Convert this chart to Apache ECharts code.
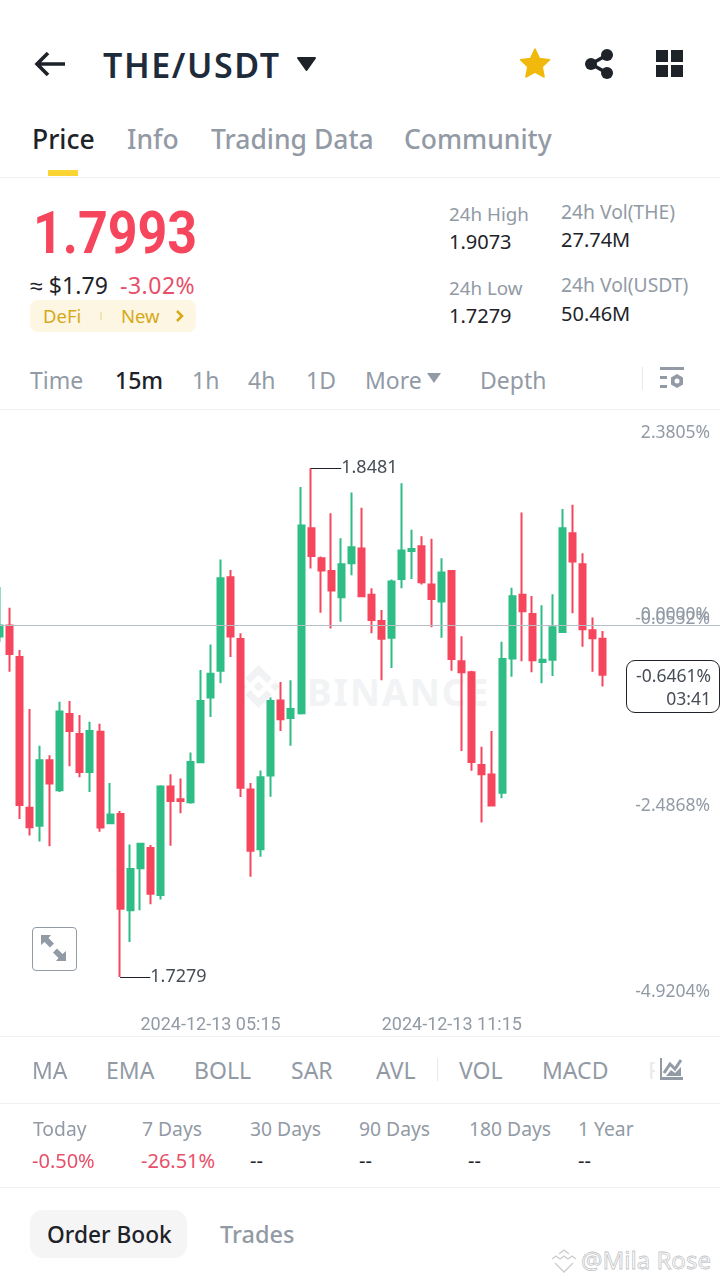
<!DOCTYPE html>
<html>
<head>
<meta charset="utf-8">
<title>THE/USDT</title>
<script src="https://cdn.jsdelivr.net/npm/echarts@6/dist/echarts.min.js"></script>
<style>
    html, body { margin: 0; padding: 0; background: #fff; }
    #page { position: relative; width: 720px; height: 1281px; overflow: hidden; background: #fff;
        font-family: "Noto Sans", sans-serif; color: #1e2329; }
    #chart { position: absolute; left: 0; top: 410px; width: 720px; height: 626px; }
    .t { position: absolute; white-space: nowrap; line-height: 1; transform: translateY(-50%); }
    .g { color: #929aa5; }
    .r { color: #e8506a; }
    .line { position: absolute; left: 0; width: 720px; height: 1px; background: #eef0f2; }
    .tab { font-size: 26.5px; font-weight: 500; }
    .iv { font-size: 23px; }
    .st { font-size: 20px; }
    .lb { font-size: 19.3px; }
    .ind { font-size: 23px; }
    svg { position: absolute; }
    #mark { position: absolute; left: 307px; top: 691px; font: bold 37px "Noto Sans", sans-serif; color: #f2f3f4;
        letter-spacing: 2px; line-height: 1; transform: translateY(-50%); }
    #lastBox { position: absolute; left: 626px; top: 660px; width: 92px; height: 51px; border: 1px solid #1e2329;
        border-radius: 9px; background: #fff; font-size: 17.5px; line-height: 23px; text-align: right;
        box-sizing: content-box; color: #474d57; }
    #lastBox div { padding-right: 8px; }
    #lastBox div:first-child { margin-top: 3px; }
</style>
</head>
<body>
<div id="page">
    <!-- header -->
    <svg style="left:34px;top:50px" width="34" height="28" viewBox="0 0 34 28"><path d="M14 3 3 14l11 11M3 14h28" fill="none" stroke="#1e2329" stroke-width="3.6"/></svg>
    <div class="t" style="left:103px;top:65px;font-size:34px;font-weight:600;letter-spacing:1.6px;color:#1e2b3a">THE/USDT</div>
    <svg style="left:296px;top:56px" width="21" height="16" viewBox="0 0 21 16"><path d="M2 2h17L10.500 14z" fill="#1e2329" stroke="#1e2329" stroke-width="2" stroke-linejoin="round"/></svg>
    <svg style="left:519px;top:47px" width="32" height="32" viewBox="0 0 32 32"><path d="M16 2l4.500 9.500 10 1.300-7.300 7 1.900 10.200L16 25l-9.100 5 1.900-10.200-7.300-7 10-1.300z" fill="#f0b90b" stroke="#f0b90b" stroke-width="1.500" stroke-linejoin="round"/></svg>
    <svg style="left:584px;top:48px" width="30" height="32" viewBox="0 0 30 32"><path d="M23 7 7 16l16 9" fill="none" stroke="#1e2329" stroke-width="3.500"/><circle cx="23" cy="7" r="6" fill="#1e2329"/><circle cx="7" cy="16" r="6" fill="#1e2329"/><circle cx="23" cy="25" r="6" fill="#1e2329"/></svg>
    <svg style="left:656px;top:50px" width="28" height="28" viewBox="0 0 28 28"><path d="M0 0h12v12H0zM15 0h12v12H15zM0 15h12v12H0zM15 15h12v12H15z" fill="#1e2329"/></svg>

    <div class="t tab" style="left:32px;top:139px">Price</div>
    <div class="t tab g" style="left:127px;top:139px">Info</div>
    <div class="t tab g" style="left:211px;top:139px">Trading Data</div>
    <div class="t tab g" style="left:404px;top:139px">Community</div>
    <div style="position:absolute;left:48px;top:170px;width:30px;height:6px;background:#fcd535"></div>
    <div class="line" style="top:177px"></div>

    <!-- price block -->
    <div class="t" style="left:33px;top:232px;font:bold 60px Roboto,sans-serif;color:#f6465d;transform-origin:left center;transform:translateY(-50%) scaleX(.866)">1.7993</div>
    <div class="t" style="left:30px;top:285px;font-size:23px;letter-spacing:.1px">≈ $1.79</div>
    <div class="t r" style="left:120px;top:285px;font-size:23px;letter-spacing:.5px">-3.02%</div>
    <div style="position:absolute;left:30px;top:300px;width:166px;height:32px;border-radius:8px;background:#fdf6e3"></div>
    <div class="t" style="left:43px;top:316px;font-size:18.5px;color:#d6a91b">DeFi</div>
    <div style="position:absolute;left:100px;top:312px;width:2px;height:8px;background:#f0e4b4"></div>
    <div class="t" style="left:121px;top:316px;font-size:18.5px;color:#d6a91b">New</div>
    <svg style="left:175px;top:309px" width="10" height="14" viewBox="0 0 10 14"><path d="M2 2l5 5-5 5" fill="none" stroke="#d6a91b" stroke-width="2.500"/></svg>

    <div class="t g lb" style="left:449px;top:214px;font-size:18.8px">24h High</div>
    <div class="t st" style="left:449px;top:242px">1.9073</div>
    <div class="t g lb" style="left:449px;top:288px;font-size:18.8px">24h Low</div>
    <div class="t st" style="left:449px;top:316px">1.7279</div>
    <div class="t g lb" style="left:561px;top:212px">24h Vol(THE)</div>
    <div class="t st" style="left:561px;top:240px">27.74M</div>
    <div class="t g lb" style="left:561px;top:285px">24h Vol(USDT)</div>
    <div class="t st" style="left:561px;top:314px">50.46M</div>

    <!-- interval row -->
    <div class="t iv g" style="left:30px;top:380px">Time</div>
    <div class="t iv" style="left:115px;top:380px;font-weight:500">15m</div>
    <div class="t iv g" style="left:192px;top:380px">1h</div>
    <div class="t iv g" style="left:248px;top:380px">4h</div>
    <div class="t iv g" style="left:306px;top:380px">1D</div>
    <div class="t iv g" style="left:365px;top:380px">More</div>
    <svg style="left:427px;top:373px" width="14" height="11" viewBox="0 0 14 11"><path d="M0 0h14L7 10z" fill="#929aa5"/></svg>
    <div class="t iv g" style="left:480px;top:380px">Depth</div>
    <div style="position:absolute;left:642px;top:367px;width:1px;height:23px;background:#e6e8ea"></div>
    <svg style="left:660px;top:367px" width="25" height="24" viewBox="0 0 25 24"><path d="M0 0h24v3H0zM0 9h7v3H0zM0 18h7v3H0z" fill="#929aa5"/><path d="M17 7l6 3.500v7L17 21l-6-3.500v-7z" fill="#929aa5"/><circle cx="17" cy="14" r="2.500" fill="#fff"/></svg>
    <div class="line" style="top:409px"></div>

    <!-- watermark sits under the transparent chart -->
    <svg style="left:237px;top:665px" width="43" height="43" viewBox="0 0 126.610 126.610"><g fill="#f1f2f3"><path d="M38.730 53.200l24.590-24.580 24.600 24.600 14.300-14.310L63.320 0 24.430 38.890z"/><path d="M0 63.310l14.300-14.310 14.310 14.310-14.310 14.300z"/><path d="M38.730 73.410L63.320 98l24.600-24.600 14.310 14.290-38.900 38.910-38.910-38.880-.02-.02z"/><path d="M98 63.310l14.300-14.310 14.310 14.310-14.310 14.300z"/><path d="M77.830 63.300L63.320 48.780 48.810 63.280l14.510 14.500z"/></g></svg>
    <div id="mark">BINANCE</div>

    <div id="chart"></div>

    <div id="lastBox"><div id="lastPct"></div><div id="lastTime"></div></div>

    <div style="position:absolute;left:32px;top:927px;width:43px;height:42px;border:1px solid #929aa5;border-radius:4px;background:#fff"></div>
    <svg style="left:41px;top:935px" width="26" height="27" viewBox="0 0 26 27"><path d="M0 0h10L7.500 3 13 8.500 9 12.500 3.500 7 0 10zM25 26H15l2.500-3L12 17.500 16 13.500l5.500 5.500 3.500-3z" fill="#929aa5"/></svg>

    <div class="line" style="top:1036px"></div>

    <!-- indicators -->
    <div class="t ind g" style="left:32px;top:1070px">MA</div>
    <div class="t ind g" style="left:106px;top:1070px">EMA</div>
    <div class="t ind g" style="left:194px;top:1070px">BOLL</div>
    <div class="t ind g" style="left:291px;top:1070px">SAR</div>
    <div class="t ind g" style="left:376px;top:1070px">AVL</div>
    <div style="position:absolute;left:437px;top:1058px;width:1px;height:23px;background:#e6e8ea"></div>
    <div class="t ind g" style="left:459px;top:1070px">VOL</div>
    <div class="t ind g" style="left:542px;top:1070px">MACD</div>
    <div class="t ind" style="left:648px;top:1070px;color:#e8eaed">R</div>
    <div style="position:absolute;left:655px;top:1052px;width:36px;height:36px;background:#fff"></div>
    <svg style="left:660px;top:1058px" width="24" height="24" viewBox="0 0 24 24"><path d="M2 0v19h21v3H0V0z" fill="#929aa5"/><path d="M4 15 10 6l5 5 6-9" fill="none" stroke="#929aa5" stroke-width="3"/><path d="M6 18l5-6 4 3 6-6v9z" fill="#929aa5"/></svg>
    <div class="line" style="top:1103px"></div>

    <!-- period returns -->
    <div class="t g lb" style="left:33px;top:1129px">Today</div>
    <div class="t g lb" style="left:142px;top:1129px">7 Days</div>
    <div class="t g lb" style="left:250px;top:1129px">30 Days</div>
    <div class="t g lb" style="left:359px;top:1129px">90 Days</div>
    <div class="t g lb" style="left:469px;top:1129px">180 Days</div>
    <div class="t g lb" style="left:578px;top:1129px">1 Year</div>
    <div class="t r st" style="left:32px;top:1161px">-0.50%</div>
    <div class="t r st" style="left:141px;top:1161px">-26.51%</div>
    <div class="t st" style="left:250px;top:1161px">--</div>
    <div class="t st" style="left:359px;top:1161px">--</div>
    <div class="t st" style="left:468px;top:1161px">--</div>
    <div class="t st" style="left:578px;top:1161px">--</div>
    <div class="line" style="top:1187px"></div>

    <!-- order book tabs -->
    <div style="position:absolute;left:30px;top:1210px;width:157px;height:48px;border-radius:13px;background:#f5f5f5"></div>
    <div class="t" style="left:47px;top:1235px;font-size:22.7px;font-weight:500">Order Book</div>
    <div class="t g" style="left:220px;top:1235px;font-size:23.5px;font-weight:500">Trades</div>

    <!-- author mark -->
    <svg style="left:550px;top:1248px" width="28" height="26" viewBox="0 0 28 26"><path d="M9 6l5-4 5 4M2 11l4-3 4 3M10 11l4-3 4 3M18 11l4-3 4 3M5 15l9 9 9-9" fill="none" stroke="#c9cbce" stroke-width="1.300"/></svg>
    <div class="t" style="left:581px;top:1259px;font:24px 'Noto Sans',sans-serif;color:#fff;-webkit-text-stroke:.8px #c4c6c9">@Mila Rose</div>
</div>

<script>
    // prices, 15m candles from 00:00
    var times = ['00:00', '00:15', '00:30', '00:45', '01:00', '01:15', '01:30', '01:45', '02:00', '02:15',
        '02:30', '02:45', '03:00', '03:15', '03:30', '03:45', '04:00', '04:15', '04:30', '04:45',
        '05:00', '05:15', '05:30', '05:45', '06:00', '06:15', '06:30', '06:45', '07:00', '07:15',
        '07:30', '07:45', '08:00', '08:15', '08:30', '08:45', '09:00', '09:15', '09:30', '09:45',
        '10:00', '10:15', '10:30', '10:45', '11:00', '11:15', '11:30', '11:45', '12:00', '12:15',
        '12:30', '12:45', '13:00', '13:15', '13:30', '13:45', '14:00', '14:15', '14:30', '14:45', '15:00'];
    var opens = [1.8083, 1.8109, 1.8035, 1.7679, 1.7636, 1.7791, 1.7720, 1.7900, 1.7853, 1.7763,
        1.7858, 1.7642, 1.7664, 1.7437, 1.7536, 1.7584, 1.7473, 1.7729, 1.7699, 1.7692,
        1.7786, 1.7939, 1.8002, 1.8223, 1.8077, 1.7722, 1.7581, 1.7755, 1.7932, 1.7891,
        1.7902, 1.8339, 1.8268, 1.8238, 1.8176, 1.8256, 1.8291, 1.8182, 1.8120, 1.8080,
        1.8219, 1.8285, 1.8296, 1.8206, 1.8166, 1.8238, 1.8025, 1.7999, 1.7780, 1.7757,
        1.7714, 1.8031, 1.8182, 1.8136, 1.8023, 1.8028, 1.8094, 1.8327, 1.8254, 1.8098, 1.8078];
    var closes = [1.8109, 1.8042, 1.7685, 1.7633, 1.7791, 1.7736, 1.7906, 1.7860, 1.7763, 1.7860,
        1.7632, 1.7663, 1.7440, 1.7534, 1.7594, 1.7476, 1.7729, 1.7695, 1.7695, 1.7787,
        1.7931, 1.7995, 1.8221, 1.8083, 1.7726, 1.7577, 1.7751, 1.7931, 1.7888, 1.7912,
        1.8345, 1.8273, 1.8239, 1.8192, 1.8254, 1.8294, 1.8178, 1.8122, 1.8078, 1.8213,
        1.8286, 1.8290, 1.8211, 1.8172, 1.8234, 1.8030, 1.7999, 1.7787, 1.7758, 1.7684,
        1.8030, 1.8178, 1.8143, 1.8027, 1.8028, 1.8105, 1.8339, 1.8260, 1.8100, 1.8079, 1.7993];
    var lows = [1.8071, 1.8000, 1.7652, 1.7613, 1.7599, 1.7588, 1.7716, 1.7777, 1.7751, 1.7716,
        1.7622, 1.7642, 1.7279, 1.7362, 1.7437, 1.7451, 1.7462, 1.7589, 1.7666, 1.7688,
        1.7786, 1.7893, 1.7973, 1.8035, 1.7704, 1.7516, 1.7563, 1.7705, 1.7860, 1.7825,
        1.7899, 1.8244, 1.8139, 1.8102, 1.8118, 1.8228, 1.8178, 1.8091, 1.7980, 1.8009,
        1.8197, 1.8219, 1.8206, 1.8105, 1.8080, 1.8002, 1.7813, 1.7766, 1.7644, 1.7684,
        1.7701, 1.7988, 1.8025, 1.7999, 1.7973, 1.7990, 1.8094, 1.8138, 1.8059, 1.8000, 1.7965];
    var highs = [1.8200, 1.8151, 1.8051, 1.7912, 1.7825, 1.7803, 1.7929, 1.7931, 1.7898, 1.7882,
        1.7877, 1.7737, 1.7671, 1.7592, 1.7594, 1.7591, 1.7732, 1.7758, 1.7748, 1.7809,
        1.8004, 1.8064, 1.8265, 1.8240, 1.8091, 1.7737, 1.7767, 1.7939, 1.7976, 1.7980,
        1.8436, 1.8481, 1.8272, 1.8374, 1.8315, 1.8423, 1.8387, 1.8197, 1.8146, 1.8218,
        1.8445, 1.8335, 1.8320, 1.8314, 1.8268, 1.8238, 1.8084, 1.8002, 1.7823, 1.7860,
        1.8071, 1.8198, 1.8376, 1.8179, 1.8157, 1.8183, 1.8384, 1.8394, 1.8280, 1.8128, 1.8096];

    var dateLabel = '2024-12-13';
    var xTickTimes = ['05:15', '11:15'];
    var percentTicks = [2.3805, 0, -0.0532, -2.4868, -4.9204];
    var basePrice = 1.8110;
    var lastPrice = 1.7993;
    var lastPercent = '-0.6461%';
    var countdown = '03:41';
    var highIndex = 31;
    var lowIndex = 12;

    document.getElementById('lastPct').textContent = lastPercent;
    document.getElementById('lastTime').textContent = countdown;

    var candles = [];
    for (var i = 0; i < times.length; i++) {
        candles.push([opens[i], closes[i], lows[i], highs[i]]);
    }

    var tickPrices = percentTicks.map(function (p) {
        return basePrice * (1 + p / 100);
    });

    var extremeLabel = {
        show: true,
        position: 'end',
        distance: 0,
        color: '#474d57',
        fontSize: 18,
        fontFamily: 'Noto Sans',
        formatter: function (p) {
            return p.data.price;
        }
    };

    var myChart = echarts.init(document.getElementById('chart'), null, {renderer: 'canvas'});
    myChart.setOption({
        animation: false,
        backgroundColor: 'transparent',
        // the plot runs past the page edges, first candle is cut like in the app
        grid: {left: -5.5, top: 0, width: 733.65, height: 600, outerBoundsMode: 'none'},
        xAxis: {
            type: 'category',
            data: times,
            max: 72,
            axisLine: {show: false},
            axisTick: {show: false},
            splitLine: {show: false},
            axisLabel: {
                interval: function (index, value) {
                    return xTickTimes.indexOf(value) >= 0;
                },
                margin: 6,
                color: '#929aa5',
                fontSize: 18,
                fontFamily: 'Roboto',
                formatter: function (value) {
                    return dateLabel + ' ' + value;
                }
            }
        },
        yAxis: {
            type: 'value',
            position: 'right',
            min: 1.72012,
            max: 1.8618,
            axisLine: {show: false},
            axisTick: {show: false},
            splitLine: {show: false},
            axisLabel: {
                inside: true,
                margin: 18,
                verticalAlign: 'bottom',
                padding: [0, 0, 1, 0],
                customValues: tickPrices,
                color: '#929aa5',
                fontSize: 17.5,
                fontFamily: 'Noto Sans',
                formatter: function (value) {
                    return ((value / basePrice - 1) * 100).toFixed(4) + '%';
                }
            }
        },
        series: [{
            type: 'candlestick',
            data: candles,
            barWidth: 6.5,
            itemStyle: {
                color: '#2ebd85',
                color0: '#f6465d',
                borderColor: '#2ebd85',
                borderColor0: '#f6465d',
                borderWidth: 2
            },
            markLine: {
                silent: true,
                symbol: 'none',
                precision: 4,
                data: [
                    // day open reference line
                    {
                        yAxis: basePrice,
                        lineStyle: {color: '#b7bdc6', width: 1, type: 'solid'},
                        label: {show: false}
                    },
                    // period high leader
                    [{
                        coord: [highIndex, highs[highIndex]],
                        price: highs[highIndex].toFixed(4),
                        lineStyle: {color: '#1e2329', width: 1, type: 'solid'},
                        label: extremeLabel
                    }, {coord: [highIndex + 3, highs[highIndex]]}],
                    // period low leader
                    [{
                        coord: [lowIndex, lows[lowIndex]],
                        price: lows[lowIndex].toFixed(4),
                        lineStyle: {color: '#1e2329', width: 1, type: 'solid'},
                        label: extremeLabel
                    }, {coord: [lowIndex + 3, lows[lowIndex]]}],
                    // last price stub towards the box
                    [{
                        coord: [times.length - 1, lastPrice],
                        lineStyle: {color: '#707a8a', width: 1, type: [6, 4]},
                        label: {show: false}
                    }, {coord: [times.length + 1, lastPrice]}]
                ]
            }
        }]
    });
</script>
</body>
</html>
